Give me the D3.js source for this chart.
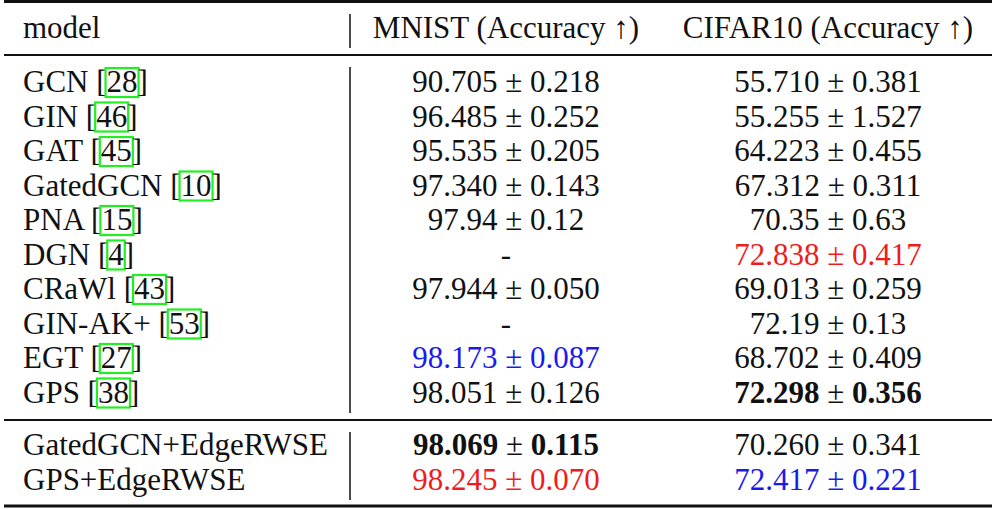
<!DOCTYPE html>
<html>
<head>
<meta charset="utf-8">
<script src="https://cdn.jsdelivr.net/npm/d3@7"></script>
<style>
body { margin: 0; background: #fff; }
svg { font-family: "Liberation Serif", "Times New Roman", Times, "Nimbus Roman", "DejaVu Serif", serif; }
</style>
</head>
<body>
<script>
// table data
var models = ["GCN", "GIN", "GAT", "GatedGCN", "PNA", "DGN", "CRaWl", "GIN-AK+", "EGT", "GPS",
              "GatedGCN+EdgeRWSE", "GPS+EdgeRWSE"];
var refs = ["28", "46", "45", "10", "15", "4", "43", "53", "27", "38", "", ""];
var mnist = [["90.705", "0.218"], ["96.485", "0.252"], ["95.535", "0.205"], ["97.340", "0.143"],
             ["97.94", "0.12"], null, ["97.944", "0.050"], null, ["98.173", "0.087"],
             ["98.051", "0.126"], ["98.069", "0.115"], ["98.245", "0.070"]];
var cifar = [["55.710", "0.381"], ["55.255", "1.527"], ["64.223", "0.455"], ["67.312", "0.311"],
             ["70.35", "0.63"], ["72.838", "0.417"], ["69.013", "0.259"], ["72.19", "0.13"],
             ["68.702", "0.409"], ["72.298", "0.356"], ["70.260", "0.341"], ["72.417", "0.221"]];
// rank marks: "r" = red (first), "b" = blue (second), "B" = bold (third)
var mnistMark = ["", "", "", "", "", "", "", "", "b", "", "B", "r"];
var cifarMark = ["", "", "", "", "", "r", "", "", "", "B", "", "b"];
var headers = ["model", "MNIST (Accuracy \u2191)", "CIFAR10 (Accuracy \u2191)"];

var w = 996, h = 509;
var svg = d3.select("body").append("svg").attr("width", w).attr("height", h)
            .attr("font-size", 31);

// row positions: 10 rows, gap, 2 rows
var rowY = models.map(function(d, i) { return 92 + i * 34.5 + (i >= 10 ? 18 : 0); });
var colX = [23, 506, 828];
var markColor = { r: "#ee1c1c", b: "#1a1aee", B: "#111", "": "#111" };

function rule(y, sw) {
  svg.append("line").attr("x1", 4).attr("x2", 992).attr("y1", y).attr("y2", y)
     .attr("stroke", "#111").attr("stroke-width", sw);
}
rule(1.5, 3); rule(55, 2); rule(420, 2); rule(506, 3);

function vline(y1, y2) {
  svg.append("line").attr("x1", 350).attr("x2", 350).attr("y1", y1).attr("y2", y2)
     .attr("stroke", "#111").attr("stroke-width", 1.5);
}
vline(14, 48); vline(67, 413); vline(432, 500);

// header
svg.selectAll("text.head").data(headers).enter().append("text")
   .attr("class", "head")
   .attr("x", function(d, i) { return colX[i]; })
   .attr("y", 38)
   .attr("fill", "#111")
   .attr("text-anchor", function(d, i) { return i ? "middle" : "start"; })
   .text(function(d) { return d; });

// model column with boxed citations
models.forEach(function(m, i) {
  var y = rowY[i];
  var t = svg.append("text").attr("x", colX[0]).attr("y", y).attr("fill", "#111")
             .text(refs[i] ? m + " [" : m);
  if (!refs[i]) return;
  var x = colX[0] + t.node().getComputedTextLength();
  var r = svg.append("text").attr("x", x).attr("y", y).attr("fill", "#111").text(refs[i]);
  var rw = r.node().getComputedTextLength();
  svg.append("rect").attr("x", x - 1).attr("y", y - 24).attr("width", rw + 2).attr("height", 29)
     .attr("fill", "none").attr("stroke", "#22ee22").attr("stroke-width", 2.2);
  svg.append("text").attr("x", x + rw).attr("y", y).attr("fill", "#111").text("]");
});

// value columns
function valueCol(vals, marks, cx) {
  vals.forEach(function(v, i) {
    var t = svg.append("text").attr("x", cx).attr("y", rowY[i]).attr("text-anchor", "middle")
               .attr("fill", markColor[marks[i]]);
    if (!v) { t.text("-"); return; }
    var bold = marks[i] === "B" ? "bold" : "normal";
    t.append("tspan").attr("font-weight", bold).text(v[0]);
    t.append("tspan").text(" \u00b1 ");
    t.append("tspan").attr("font-weight", bold).text(v[1]);
  });
}
valueCol(mnist, mnistMark, colX[1]);
valueCol(cifar, cifarMark, colX[2]);
</script>
</body>
</html>
